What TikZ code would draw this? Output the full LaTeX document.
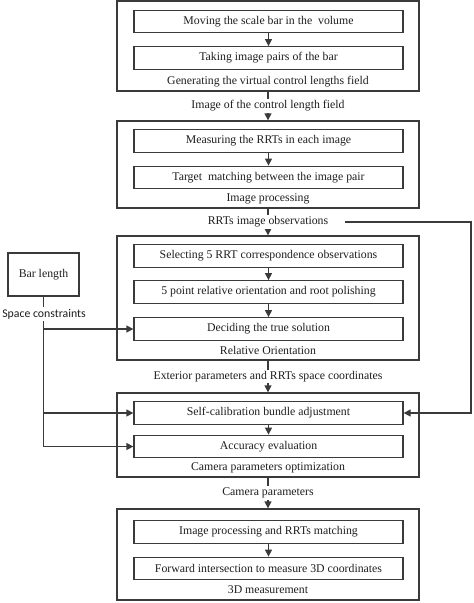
\documentclass[tikz,border=0pt]{standalone}
\usepackage{fontspec}
\setmainfont{Liberation Serif}
\newfontfamily\carlitofont{Carlito}
\usetikzlibrary{arrows.meta}
\definecolor{linec}{HTML}{3A3A3A}
\definecolor{textc}{HTML}{1E1E1E}
\begin{document}
\begin{tikzpicture}[x=1pt,y=-1pt,
  txt/.style={font=\fontsize{11.8}{14}\selectfont, text=textc},
  outerbox/.style={draw=linec, line width=1.3pt, minimum width=302pt, inner sep=0pt},
  innerbox/.style={txt, draw=linec, line width=1.3pt, minimum width=269pt, minimum height=22.5pt, inner sep=0pt},
  grouplabel/.style={txt, inner sep=0pt},
  flowlabel/.style={txt, fill=white, inner xsep=2pt, inner ysep=1.5pt},
  sidelabel/.style={font=\carlitofont\fontsize{11.8}{14}\selectfont, text=textc, fill=white, inner xsep=1pt, inner ysep=1.5pt},
  arr/.style={draw=linec, line width=1.3pt, -{Triangle[length=7pt,width=7pt]}},
  plain/.style={draw=linec, line width=1.3pt}
]
\useasboundingbox (0,0) rectangle (474,603);

% group 1
\node[outerbox, minimum height=90pt] (g1) at (268,46) {};
\node[innerbox] (a1) at (268.5,21.5) {Moving the scale bar in the \ volume};
\node[innerbox] (a2) at (268.5,58) {Taking image pairs of the bar};
\node[grouplabel] (l1) at (268,82) {Generating the virtual control lengths field};
\draw[arr] (a1.south) -- (a2.north);

% group 2
\node[outerbox, minimum height=87pt] (g2) at (268,164.5) {};
\node[innerbox] (b1) at (268.5,141) {Measuring the RRTs in each image};
\node[innerbox] (b2) at (268.5,177.5) {Target \ matching between the image pair};
\node[grouplabel] (l2) at (268,199) {Image processing};
\draw[arr] (b1.south) -- (b2.north);

% group 3
\node[outerbox, minimum height=124pt] (g3) at (268,298) {};
\node[innerbox] (c1) at (268.5,256) {Selecting 5 RRT correspondence observations};
\node[innerbox] (c2) at (268.5,292) {5 point relative orientation and root polishing};
\node[innerbox] (c3) at (268.5,329) {Deciding the true solution};
\node[grouplabel] (l3) at (268,350) {Relative Orientation};
\draw[arr] (c1.south) -- (c2.north);
\draw[arr] (c2.south) -- (c3.north);

% group 4
\node[outerbox, minimum height=84pt] (g4) at (268,435) {};
\node[innerbox] (d1) at (268.5,413) {Self-calibration bundle adjustment};
\node[innerbox] (d2) at (268.5,446.5) {Accuracy evaluation};
\node[grouplabel] (l4) at (268,468) {Camera parameters optimization};
\draw[arr] (d1.south) -- (d2.north);

% group 5
\node[outerbox, minimum height=91pt] (g5) at (268,554.5) {};
\node[innerbox] (e1) at (268.5,532) {Image processing and RRTs matching};
\node[innerbox] (e2) at (268.5,568.5) {Forward intersection to measure 3D coordinates};
\node[grouplabel] (l5) at (268,590) {3D measurement};
\draw[arr] (e1.south) -- (e2.north);

% flow between groups
\draw[arr] (g1.south) -- node[flowlabel] (f1) {Image of the control length field} (g2.north);
\draw[arr] (g2.south) -- node[flowlabel] (f2) {RRTs image observations} (g3.north);
\draw[arr] (g3.south) -- node[flowlabel] (f3) {Exterior parameters and RRTs space coordinates} (g4.north);
\draw[arr] (g4.south) -- node[flowlabel] (f4) {Camera parameters} (g5.north);

% RRTs feedback to bundle adjustment
\coordinate (r0) at (345,222);
\coordinate (r1) at (471,222);
\draw[arr] (r0) -- (r1) |- (d1.east);

% bar length
\node[txt, draw=linec, line width=1.3pt, minimum width=71pt, minimum height=43pt, inner sep=0pt] (bar) at (43.5,274.5) {Bar length};
\draw[arr] (bar.south) |- (d2.west);
\draw[arr] (bar.south |- c3.west) -- (c3.west);
\draw[arr] (bar.south |- d1.west) -- (d1.west);
\node[sidelabel] (sc) at (44,314) {Space constraints};
\end{tikzpicture}
\end{document}
